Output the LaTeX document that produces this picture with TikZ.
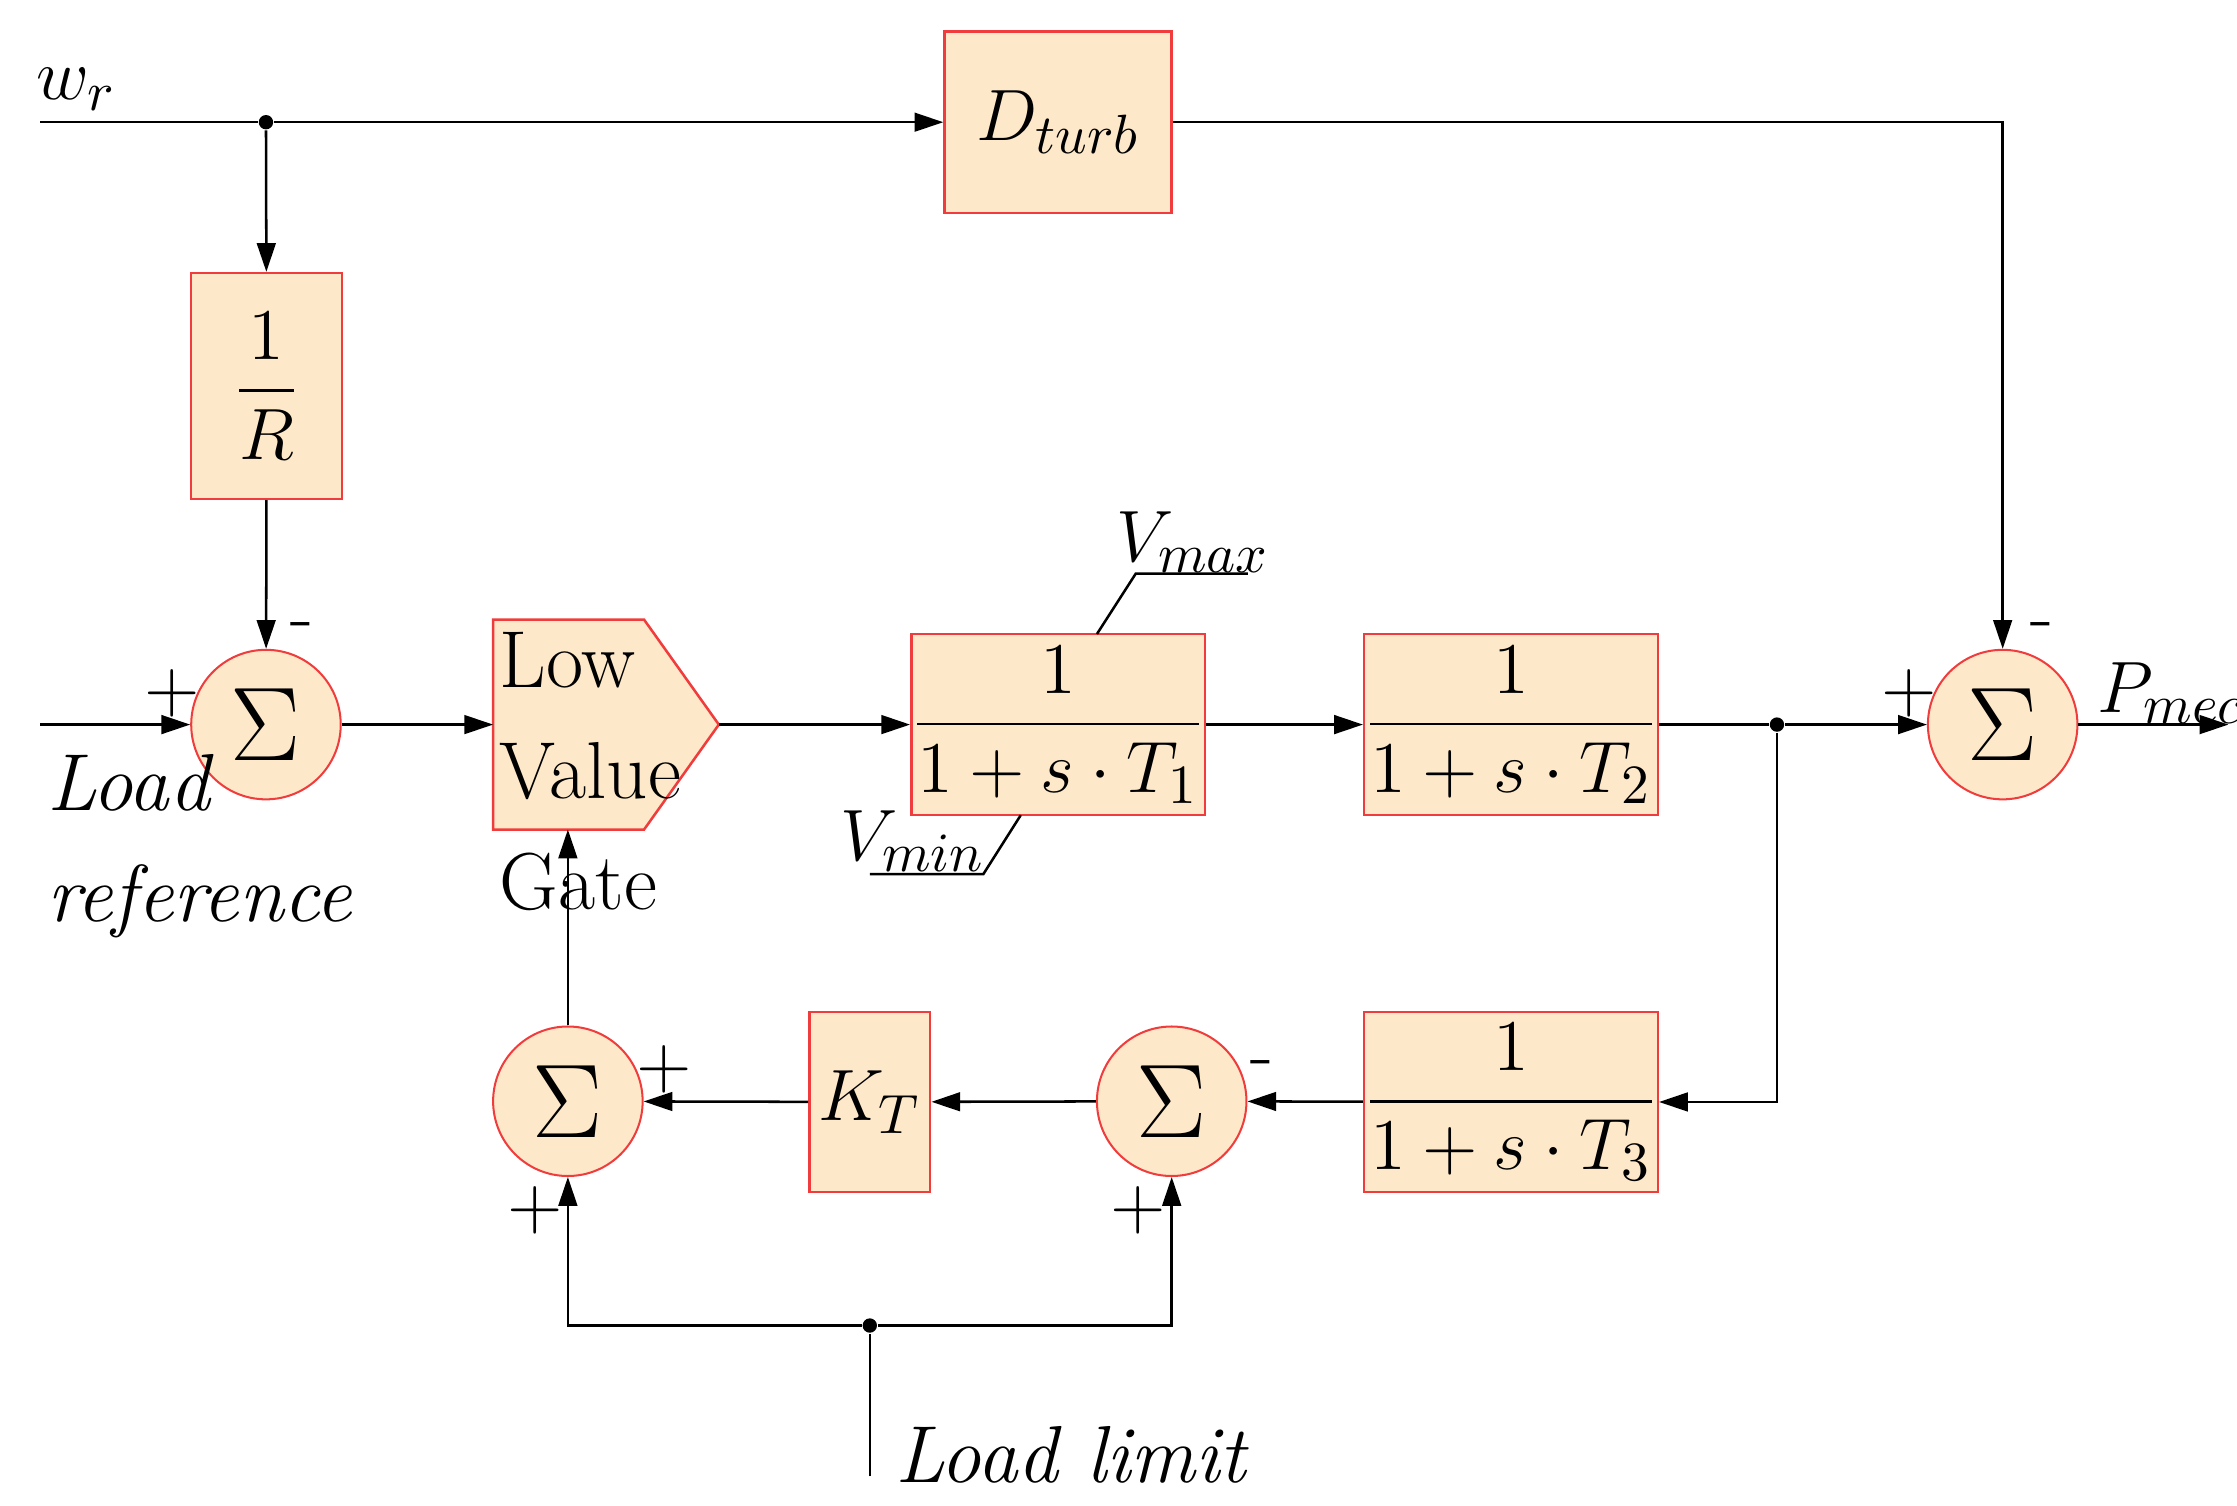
\documentclass[tikz,border=0pt]{standalone}
\usepackage{amsmath}
\usetikzlibrary{arrows.meta,shapes.geometric,positioning}
\definecolor{fillc}{HTML}{FDE9C9}
\definecolor{linec}{HTML}{F03C3C}
\begin{document}
\begin{tikzpicture}[
  box/.style={draw=linec,fill=fillc,line width=0.5pt,inner sep=0pt},
  sum/.style={draw=linec,fill=fillc,circle,minimum size=1.04cm,inner sep=0pt,font=\fontsize{20}{22}\selectfont},
  ar/.style={-{Triangle[length=0.2cm,width=0.13cm]}},
  w/.style={line width=0.5pt},
  dot/.style={circle,fill=black,inner sep=0pt,minimum size=0.1cm},
  every node/.append style={font=\fontsize{15}{17}\selectfont}
]
\useasboundingbox (0,0) rectangle (15.56,10.47);
% nodes
\node[box,minimum width=1.58cm,minimum height=1.26cm] (D) at (7.36,9.62) {$D_{turb}$};
\node[box,minimum width=1.05cm,minimum height=1.57cm] (R) at (1.855,7.785) {$\dfrac{1}{R}$};
\node[sum] (S1) at (1.85,5.43) {$\Sigma$};
\node[sum] (S4) at (13.93,5.43) {$\Sigma$};
\node[sum] (S2) at (3.95,2.81) {$\Sigma$};
\node[sum] (S3) at (8.15,2.81) {$\Sigma$};
\node[box,minimum width=1.58cm,minimum height=1.26cm] (T1) at (7.36,5.43) {$\dfrac{1}{1+s\cdot T_1}$};
\node[box,minimum width=1.58cm,minimum height=1.26cm] (T2) at (10.51,5.43) {$\dfrac{1}{1+s\cdot T_2}$};
\node[box,minimum width=1.58cm,minimum height=1.25cm] (T3) at (10.51,2.805) {$\dfrac{1}{1+s\cdot T_3}$};
\node[box,minimum width=0.84cm,minimum height=1.25cm] (K) at (6.05,2.805) {$K_T$};
\draw[box] (3.43,6.16) -- (4.48,6.16) -- (5.00,5.43) -- (4.48,4.70) -- (3.43,4.70) -- cycle;
\coordinate (G) at (5.00,5.43);
\coordinate (Gb) at (3.95,4.70);
\node[anchor=north west,align=left,inner sep=0pt,font=\fontsize{16}{22}\selectfont] (Gt) at (3.47,6.08) {Low\\Value\\Gate};
% coordinates
\coordinate (win) at (0.28,9.62);
\node[dot] (d1) at (1.85,9.62) {};
\coordinate (lin) at (0.28,5.43);
\node[dot] (d2) at (12.36,5.43) {};
\coordinate (out) at (15.50,5.43);
\node[dot] (d3) at (6.05,1.25) {};
\coordinate (llin) at (6.05,0.20);
\coordinate (Gl) at (3.43,5.43);
% connectors
\draw[w] (win) -- (d1);
\draw[w,ar] (d1) -- (D);
\draw[w,ar] (d1) -- (R);
\draw[w,ar] (R) -- (S1);
\draw[w,ar] (lin) -- (S1);
\draw[w,ar] (S1) -- (Gl);
\draw[w,ar] (G) -- (T1);
\draw[w,ar] (T1) -- (T2);
\draw[w] (T2) -- (d2);
\draw[w,ar] (d2) -- (S4);
\draw[w,ar] (S4) -- (out);
\draw[w,ar] (D.east) -| (S4.north);
\draw[w,ar] (d2) |- (T3.east);
\draw[w,ar] (T3) -- (S3);
\draw[w,ar] (S3) -- (K);
\draw[w,ar] (K) -- (S2);
\draw[w,ar] (S2) -- (Gb);
\draw[w] (llin) -- (d3);
\draw[w,ar] (d3) -| (S2.south);
\draw[w,ar] (d3) -| (S3.south);
% limits
\draw[w] (7.63,6.06) -- (7.90,6.48) -- (8.68,6.48);
\draw[w] (7.10,4.80) -- (6.84,4.39) -- (6.05,4.39);
\node at (8.30,6.70) {$V_{max}$};
\node at (6.35,4.62) {$V_{min}$};
% labels
\node at (0.53,9.85) {$w_r$};
\node at (15.10,5.65) {$P_{mec}$};
\node[anchor=north west,align=left,font=\fontsize{16}{22}\selectfont\itshape,inner sep=0pt] at (0.32,5.23) {Load\\reference};
\node[anchor=west,font=\fontsize{16}{18}\selectfont\itshape,inner sep=0pt] at (6.22,0.35) {Load limit};
\node at (1.20,5.65) {$+$};
\node at (2.10,6.08) {-};
\node at (13.28,5.65) {$+$};
\node at (14.20,6.08) {-};
\node at (4.62,3.03) {$+$};
\node at (3.72,2.05) {$+$};
\node at (8.78,3.03) {-};
\node at (7.92,2.05) {$+$};
\end{tikzpicture}
\end{document}
